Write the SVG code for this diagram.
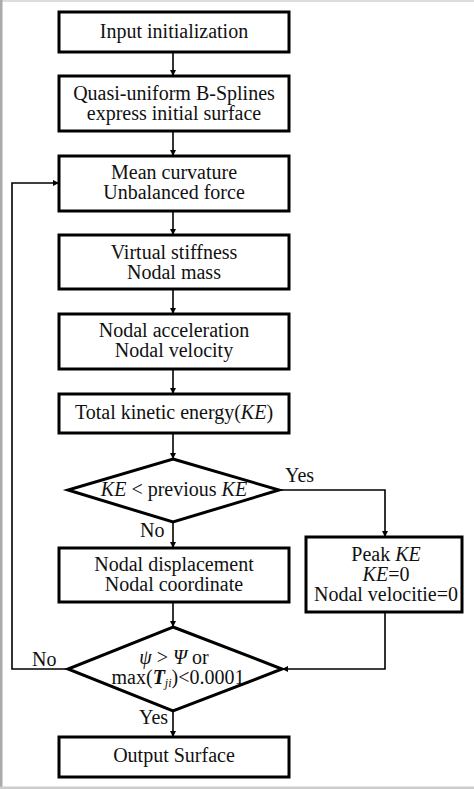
<svg xmlns="http://www.w3.org/2000/svg" width="474" height="789" viewBox="0 0 474 789">
<style>
.box{fill:#fff;stroke:#000;stroke-width:3}
.t{font-family:"Liberation Serif","Times New Roman",serif;font-size:20px;fill:#111;text-anchor:middle}
.l{font-family:"Liberation Serif","Times New Roman",serif;font-size:20px;fill:#111}
.c{fill:none;stroke:#000;stroke-width:1.6}
</style>
<defs>
<marker id="a" viewBox="0 0 10 10" refX="10" refY="5" markerWidth="6" markerHeight="6" markerUnits="userSpaceOnUse" orient="auto">
<path d="M0,0 L10,5 L0,10 z" fill="#000"/>
</marker>
</defs>
<rect x="0" y="0" width="474" height="789" fill="#fff"/>
<rect x="0" y="0" width="474" height="2" fill="#ddd"/>
<rect x="0" y="0" width="2.5" height="789" fill="#aaa"/>
<rect x="0" y="786.5" width="474" height="2.5" fill="#ccc"/>
<g id="connectors">
<path class="c" d="M173,52 V76" marker-end="url(#a)"/>
<path class="c" d="M173,131 V156" marker-end="url(#a)"/>
<path class="c" d="M173,211 V235" marker-end="url(#a)"/>
<path class="c" d="M173,289 V314" marker-end="url(#a)"/>
<path class="c" d="M173,369 V394" marker-end="url(#a)"/>
<path class="c" d="M173,433 V459" marker-end="url(#a)"/>
<path class="c" d="M173,522 V548" marker-end="url(#a)"/>
<path class="c" d="M173,602 V627" marker-end="url(#a)"/>
<path class="c" d="M173,711 V737" marker-end="url(#a)"/>
<path class="c" d="M279,490 H385 V537" marker-end="url(#a)"/>
<path class="c" d="M385,612 V669 H282" marker-end="url(#a)"/>
<path class="c" d="M68,669 H12 V183 H59" marker-end="url(#a)"/>
<text class="l" x="285" y="482">Yes</text>
<text class="l" x="140" y="537">No</text>
<text class="l" x="32" y="666">No</text>
<text class="l" x="139" y="724">Yes</text>
</g>
<g id="n1">
<rect class="box" x="59" y="12" width="230" height="40"/>
<text class="t" x="174" y="38">Input initialization</text>
</g>
<g id="n2">
<rect class="box" x="59" y="76" width="230" height="55"/>
<text class="t" x="174" y="100">Quasi-uniform B-Splines</text>
<text class="t" x="174" y="120">express initial surface</text>
</g>
<g id="n3">
<rect class="box" x="59" y="156" width="230" height="55"/>
<text class="t" x="174" y="179">Mean curvature</text>
<text class="t" x="174" y="199">Unbalanced force</text>
</g>
<g id="n4">
<rect class="box" x="59" y="235" width="230" height="54"/>
<text class="t" x="174" y="259">Virtual stiffness</text>
<text class="t" x="174" y="279">Nodal mass</text>
</g>
<g id="n5">
<rect class="box" x="59" y="314" width="230" height="55"/>
<text class="t" x="174" y="337">Nodal acceleration</text>
<text class="t" x="174" y="357">Nodal velocity</text>
</g>
<g id="n6">
<rect class="box" x="59" y="394" width="230" height="39"/>
<text class="t" x="174" y="419">Total kinetic energy(<tspan font-style="italic">KE</tspan>)</text>
</g>
<g id="d1">
<polygon class="box" points="173,459 279,490 173,522 68,490"/>
<text class="t" x="174" y="496"><tspan font-style="italic">KE</tspan> &lt; previous <tspan font-style="italic">KE</tspan></text>
</g>
<g id="n7">
<rect class="box" x="59" y="548" width="230" height="54"/>
<text class="t" x="174" y="571">Nodal displacement</text>
<text class="t" x="174" y="591">Nodal coordinate</text>
</g>
<g id="n8">
<rect class="box" x="306" y="537" width="156" height="75"/>
<text class="t" x="386" y="561">Peak <tspan font-style="italic">KE</tspan></text>
<text class="t" x="386" y="581"><tspan font-style="italic">KE</tspan>=0</text>
<text class="t" x="386" y="601">Nodal velocitie=0</text>
</g>
<g id="d2">
<polygon class="box" points="173,627 282,669 173,711 68,669"/>
<text class="t" x="174" y="664"><tspan font-style="italic">ψ</tspan> &gt; <tspan font-style="italic">Ψ</tspan>  or</text>
<text class="t" x="178" y="684">max(<tspan font-style="italic" font-weight="bold">T</tspan><tspan font-style="italic" font-size="12px" dy="3">ji</tspan><tspan dy="-3">)&lt;0.0001</tspan></text>
</g>
<g id="n9">
<rect class="box" x="59" y="737" width="230" height="40"/>
<text class="t" x="174" y="762">Output Surface</text>
</g>
</svg>
